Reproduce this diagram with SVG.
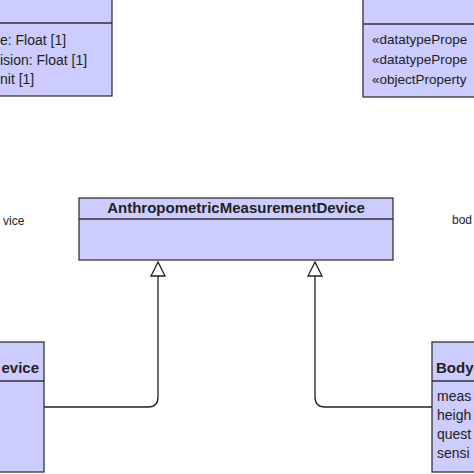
<svg xmlns="http://www.w3.org/2000/svg" width="474" height="474" viewBox="0 0 474 474">
<style>
.box{fill:#ccccff;stroke:#333;stroke-width:1.3}
.div{stroke:#333;stroke-width:1.3}
.t{font-family:"Liberation Sans",Arial,sans-serif;font-size:14px;fill:#222}
.tr{font-family:"Liberation Sans",Arial,sans-serif;font-size:13.5px;fill:#222}
.b{font-family:"Liberation Sans",Arial,sans-serif;font-size:15px;font-weight:bold;fill:#222}
.l{font-family:"Liberation Sans",Arial,sans-serif;font-size:12px;fill:#222}
.c{fill:none;stroke:#222;stroke-width:1.3}
.tri{fill:#fff;stroke:#222;stroke-width:1.3}
</style>
<rect width="474" height="474" fill="#fff"/>
<g id="topLeftClass">
<rect class="box" x="-20" y="-1" width="132" height="97"/>
<line class="div" x1="-20" y1="23" x2="112" y2="23"/>
<text class="t" x="0" y="45">e: Float [1]</text>
<text class="t" x="0" y="65">ision: Float [1]</text>
<text class="t" x="0" y="84">nit [1]</text>
</g>
<g id="topRightClass">
<rect class="box" x="363" y="-1" width="130" height="98"/>
<line class="div" x1="363" y1="24" x2="493" y2="24"/>
<text class="tr" x="372" y="44">«datatypePrope</text>
<text class="tr" x="372" y="64">«datatypePrope</text>
<text class="tr" x="372" y="84">«objectProperty</text>
</g>
<g id="AnthropometricMeasurementDevice">
<rect class="box" x="79" y="198" width="314" height="62"/>
<line class="div" x1="79" y1="219" x2="393" y2="219"/>
<text class="b" x="236" y="213" text-anchor="middle">AnthropometricMeasurementDevice</text>
</g>
<g id="bottomLeftClass">
<rect class="box" x="-20" y="342" width="64" height="130"/>
<line class="div" x1="-20" y1="381" x2="44" y2="381"/>
<text class="b" x="39" y="373" text-anchor="end">evice</text>
</g>
<g id="bottomRightClass">
<rect class="box" x="432" y="342" width="70" height="130"/>
<line class="div" x1="432" y1="381" x2="502" y2="381"/>
<text class="b" x="436" y="373">Body</text>
<text class="t" x="437" y="401">meas</text>
<text class="t" x="437" y="420">heigh</text>
<text class="t" x="437" y="439">quest</text>
<text class="t" x="437" y="458">sensi</text>
</g>
<g id="labels">
<text class="l" x="3" y="225">vice</text>
<text class="l" x="452" y="224">bod</text>
</g>
<g id="connectors">
<path class="c" d="M158,276 V397 Q158,407 148,407 H44"/>
<path class="c" d="M315,276 V397 Q315,407 325,407 H432"/>
<polygon class="tri" points="158,262 151,276 165,276"/>
<polygon class="tri" points="315,262 308,276 322,276"/>
</g>
</svg>
